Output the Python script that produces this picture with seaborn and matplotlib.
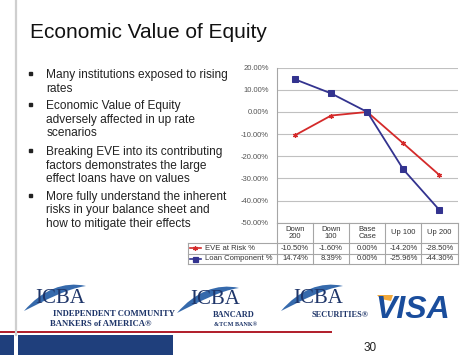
import matplotlib
matplotlib.use("Agg")
import matplotlib.pyplot as plt
import matplotlib.transforms as mtransforms
from matplotlib.patches import Rectangle, PathPatch, Polygon
from matplotlib.path import Path
from matplotlib.lines import Line2D
import seaborn as sns
import pandas as pd

# ---------------- data ----------------
categories = ["Down 200", "Down 100", "Base Case", "Up 100", "Up 200"]
header_labels = ["Down\n200", "Down\n100", "Base\nCase", "Up 100", "Up 200"]
eve_at_risk = [-10.50, -1.60, 0.00, -14.20, -28.50]
loan_component = [14.74, 8.39, 0.00, -25.96, -44.30]
series_names = ["EVE at Risk %", "Loan Component %"]
y_ticks = [20, 10, 0, -10, -20, -30, -40, -50]

title = "Economic Value of Equity"
bullets = [
    ["Many institutions exposed to rising", "rates"],
    ["Economic Value of Equity", "adversely affected in up rate", "scenarios"],
    ["Breaking EVE into its contributing", "factors demonstrates the large",
     "effect loans have on values"],
    ["More fully understand the inherent", "risks in your balance sheet and",
     "how to mitigate their effects"],
]
page_number = "30"

RED = "#d42a2a"
BLUE = "#33338f"
GRID = "#c0c0c0"
TBL = "#a6a6a6"

plt.rcParams["font.family"] = ["Liberation Sans", "DejaVu Sans"]

W, H = 474, 355
fig = plt.figure(figsize=(W / 100, H / 100), dpi=100)
fig.patch.set_facecolor("white")

# background overlay axes in pixel coordinates
bg = fig.add_axes([0, 0, 1, 1])
bg.set_xlim(0, W)
bg.set_ylim(H, 0)
bg.axis("off")

# ---------------- slide decoration ----------------
bg.add_line(Line2D([16, 16], [0, 335], color="#cfcfcf", lw=1.6))
bg.text(30, 38.5, title, fontsize=15, ha="left", va="baseline", color="#111111")

line_y = [74, 87.3, 105, 118.3, 132.3, 151, 164.3, 177.7, 195.7, 209, 222.3]
k = 0
for b in bullets:
    bg.add_patch(Rectangle((29, line_y[k] - 1.8), 3.0, 3.0, color="#222222"))
    for ln in b:
        bg.text(46.5, line_y[k] + 4.2, ln, fontsize=8.6, ha="left",
                va="baseline", color="#222222")
        k += 1

# bottom bars
bg.add_patch(Rectangle((0, 330.5), 332, 2.6, color="#b2222e", lw=0))
bg.add_patch(Rectangle((0, 335), 14.5, 20, color="#1f3f7c", lw=0))
bg.add_patch(Rectangle((18, 335), 155, 20, color="#1f3f7c", lw=0))
bg.text(370, 351, page_number, fontsize=8.5, ha="center", va="baseline",
        color="#222222")


def swoosh(x0, y0, s=1.0):
    verts = [
        (x0, y0 + 27 * s),
        (x0 + 18 * s, y0 + 6 * s), (x0 + 40 * s, y0 - 3 * s), (x0 + 62 * s, y0 + 2 * s),
        (x0 + 42 * s, y0 + 5 * s), (x0 + 22 * s, y0 + 16 * s), (x0, y0 + 27 * s),
        (x0, y0 + 27 * s),
    ]
    codes = [Path.MOVETO, Path.CURVE4, Path.CURVE4, Path.CURVE4,
             Path.CURVE4, Path.CURVE4, Path.CURVE4, Path.CLOSEPOLY]
    bg.add_patch(PathPatch(Path(verts, codes), facecolor="#2b62a8",
                           edgecolor="none", alpha=0.95))


NAVY = "#1e3569"
# logo 1
swoosh(24, 284)
bg.text(60, 303, "ICBA", fontsize=15, family=["Liberation Serif"],
        ha="center", va="baseline", color=NAVY)
bg.text(53, 316, "INDEPENDENT COMMUNITY", fontsize=6.2,
        family=["Liberation Serif"], weight="bold", ha="left",
        va="baseline", color=NAVY)
bg.text(50, 326.5, "BANKERS of AMERICA\u00ae", fontsize=6.2,
        family=["Liberation Serif"], weight="bold", ha="left",
        va="baseline", color=NAVY)
# logo 2
swoosh(177, 286)
bg.text(215, 304, "ICBA", fontsize=15, family=["Liberation Serif"],
        ha="center", va="baseline", color=NAVY)
bg.text(234, 317, "BANCARD", fontsize=6.0, family=["Liberation Serif"],
        weight="bold", ha="center", va="baseline", color=NAVY)
bg.text(236, 325.5, "&TCM BANK\u00ae", fontsize=4.4, family=["Liberation Serif"],
        weight="bold", ha="center", va="baseline", color=NAVY)
# logo 3
swoosh(281, 284)
bg.text(318, 303, "ICBA", fontsize=15, family=["Liberation Serif"],
        ha="center", va="baseline", color=NAVY)
bg.text(340, 317, "SECURITIES\u00ae", fontsize=6.0, family=["Liberation Serif"],
        weight="bold", ha="center", va="baseline", color=NAVY)
# visa
bg.add_patch(Polygon([(377, 295), (393, 295), (391, 301), (381, 299)],
                     closed=True, color="#f2a93b", lw=0))
bg.text(413, 318, "VISA", fontsize=23, weight="bold", style="italic",
        ha="center", va="baseline", color="#1a4d9c")

# ---------------- chart ----------------
px_l, px_r, px_t, px_b = 277, 457.5, 67.7, 222.7
ax = fig.add_axes([px_l / W, 1 - px_b / H, (px_r - px_l) / W, (px_b - px_t) / H])
ax.set_facecolor("white")

df = pd.DataFrame({
    "scenario": categories * 2,
    "value": eve_at_risk + loan_component,
    "series": [series_names[0]] * len(categories) + [series_names[1]] * len(categories),
})

sns.lineplot(data=df[df.series == series_names[0]], x="scenario", y="value",
             color=RED, marker=(6, 2, 0), markersize=3.4, markeredgecolor=RED,
             markeredgewidth=0.9, linewidth=1.3, sort=False, ax=ax, legend=False)
sns.lineplot(data=df[df.series == series_names[1]], x="scenario", y="value",
             color=BLUE, marker="s", markersize=4.2, markeredgecolor=BLUE,
             linewidth=1.3, sort=False, ax=ax, legend=False)

ax.set_xlim(-0.5, len(categories) - 0.5)
ax.set_ylim(min(y_ticks), max(y_ticks))
ax.set_yticks(y_ticks)
ax.set_yticklabels([f"{v:.2f}%" for v in y_ticks])
ax.set_xticks([])
ax.set_xlabel("")
ax.set_ylabel("")
ax.tick_params(axis="y", length=0, pad=6, labelsize=5.5, labelcolor="#555555")
ax.yaxis.grid(True, color=GRID, lw=0.8)
ax.set_axisbelow(True)
for s in ["top", "right"]:
    ax.spines[s].set_visible(False)
ax.spines["left"].set_color(TBL)
ax.spines["bottom"].set_color(TBL)
ax.spines["left"].set_linewidth(0.8)
ax.spines["bottom"].set_linewidth(0.8)

# ---------------- data table ----------------
trans = mtransforms.blended_transform_factory(ax.transData, bg.transData)
row_h = [222.7, 243, 253.5, 264]
n = len(categories)
for i in range(n + 1):
    ax.add_line(Line2D([i - 0.5, i - 0.5], [row_h[0], row_h[-1]], color=TBL,
                       lw=0.8, transform=trans, clip_on=False))
for yv in row_h[1:]:
    ax.add_line(Line2D([-0.5, n - 0.5], [yv, yv], color=TBL, lw=0.8,
                       transform=trans, clip_on=False))
    bg.add_line(Line2D([188, px_l], [yv, yv], color=TBL, lw=0.8))
bg.add_line(Line2D([188, 188], [row_h[1], row_h[-1]], color=TBL, lw=0.8))

for i, lab in enumerate(header_labels):
    ax.text(i, 233, lab, transform=trans, ha="center", va="center",
            fontsize=5.5, color="#333333", linespacing=1.15, clip_on=False)

rows = [(eve_at_risk, RED, (6, 2, 0), 3.4), (loan_component, BLUE, "s", 3.6)]
for r, (vals, col, mk, ms) in enumerate(rows):
    yc = (row_h[r + 1] + row_h[r + 2]) / 2
    for i, v in enumerate(vals):
        ax.text(i, yc, f"{v:.2f}%", transform=trans, ha="center", va="center",
                fontsize=5.5, color="#333333", clip_on=False)
    bg.add_line(Line2D([190, 201], [yc, yc], color=col, lw=1.2))
    bg.add_line(Line2D([195.5], [yc], color=col, marker=mk, markersize=ms,
                       markeredgecolor=col, markeredgewidth=0.9))
    bg.text(205, yc, series_names[r], ha="left", va="center", fontsize=5.5,
            color="#333333")

fig.savefig("out.png", dpi=100, facecolor="white")
